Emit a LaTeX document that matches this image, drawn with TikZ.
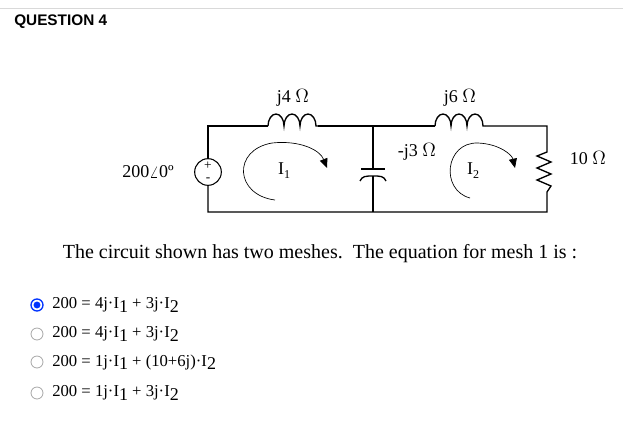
\documentclass[tikz,border=0pt]{standalone}
\usepackage{fontspec}
\setmainfont{Liberation Serif}
\newfontfamily\qsans{Liberation Sans}
\usetikzlibrary{arrows.meta}
\tikzset{
 wire/.style={line width=1pt},
 lbl/.style={inner sep=0pt,font=\fontsize{13.5}{15}\selectfont},
 mesh/.style={line width=0.5pt,-{Triangle[length=7pt,width=6pt]}},
 radio/.style={circle,draw=gray!70,line width=0.6pt,minimum size=9pt,inner sep=0pt},
 opt/.style={anchor=west,inner sep=0pt,font=\fontsize{12.5}{14}\selectfont}
}
\newcommand{\mysb}[1]{\raisebox{-3pt}{#1}}
\newcommand{\mysbb}[1]{\raisebox{-2.5pt}{\fontsize{13.5}{14}\selectfont #1}}
\begin{document}
\begin{tikzpicture}[x=0.75pt,y=-0.75pt]
\useasboundingbox (0,0) rectangle (623,432);
\draw[gray!30,line width=0.6pt] (0,8) -- (623,8);
\node[anchor=west,inner sep=0pt,font=\qsans\bfseries\fontsize{11.5}{13}\selectfont] (q) at (14,22) {QUESTION 4};
% nodes / coordinates
\coordinate (tl) at (208,126); \coordinate (tm) at (373,126); \coordinate (tr) at (547,126);
\coordinate (bl) at (208,212); \coordinate (bm) at (373,212); \coordinate (br) at (547,212);
\coordinate (l1a) at (268,126); \coordinate (l1b) at (318,126);
\coordinate (l2a) at (435,126); \coordinate (l2b) at (485,126);
\coordinate (c1) at (373,169); \coordinate (c2) at (373,176);
\coordinate (r1) at (547,152); \coordinate (r2) at (547,192);
\node[circle,draw,line width=0.8pt,minimum size=20pt,inner sep=0pt] (src) at (208,172) {};
\node[inner sep=0pt,font=\fontsize{10}{10}\selectfont] (plus) at (208,166) {+};
\node[inner sep=0pt,font=\fontsize{10}{10}\selectfont] (minus) at (208,179.5) {-};
% wires
\draw[wire] (src.north) -- (tl) -- (l1a);
\draw[wire] (l1a) arc[start angle=180,end angle=0,x radius=6pt,y radius=9pt] arc[start angle=180,end angle=0,x radius=6pt,y radius=9pt] arc[start angle=180,end angle=0,x radius=6pt,y radius=9pt] -- (l1b);
\draw[wire] (l1b) -- (tm) -- (l2a);
\draw[wire] (l2a) arc[start angle=180,end angle=0,x radius=6pt,y radius=9pt] arc[start angle=180,end angle=0,x radius=6pt,y radius=9pt] arc[start angle=180,end angle=0,x radius=6pt,y radius=9pt] -- (l2b);
\draw[wire] (l2b) -- (tr) -- (r1) -- ++(-10,4) -- ++(14,6) -- ++(-14,6) -- ++(14,6) -- ++(-14,6) -- ++(14,6) -- (r2) -- (br) -- (bl) -- (src.south);
\draw[wire] (tm) -- (c1); \draw[wire] (c2) -- (bm);
\draw[wire] (361,169) -- (385,169);
\draw[wire] (360,181) .. controls (362,176) and (366,176) .. (c2) .. controls (380,176) and (384,176) .. (386,181);
% labels
\node[lbl] (lj4) at (293,98) {j4 $\Omega$};
\node[lbl] (lj6) at (460,98) {j6 $\Omega$};
\node[lbl] (lc) at (417,152) {-j3 $\Omega$};
\node[lbl] (lr) at (588,158) {10 $\Omega$};
\node[lbl] (lv) at (148,172) {200$\angle$0º};
\node[lbl] (i1) at (284,171) {I\mysb{\fontsize{9}{9}\selectfont 1}};
\node[lbl] (i2) at (473,171) {I\mysb{\fontsize{9}{9}\selectfont 2}};
% mesh arrows
\draw[mesh] (275,200) .. controls (235,195) and (232,150) .. (272,143) .. controls (300,140) and (320,150) .. (327,168);
\draw[mesh] (470,198) .. controls (440,190) and (445,142) .. (478,143) .. controls (500,144) and (512,155) .. (515,168);
% text
\node[inner sep=0pt,font=\fontsize{15}{17}\selectfont] (txt) at (320,254) {The circuit shown has two meshes.\ \ The equation for mesh 1 is :};
% options
\node[radio,draw=blue!80!cyan,line width=1pt,fill=white] (ra) at (37,305) {};
\fill[blue!80!cyan] (ra) circle (2.6pt);
\node[radio] (rb) at (37,334) {};
\node[radio] (rc) at (37,362) {};
\node[radio] (rd) at (37,393) {};
\node[opt] (oa) at (52,305) {200 = 4j·I\mysbb1 + 3j·I\mysbb2};
\node[opt] (ob) at (52,334) {200 = 4j·I\mysbb1 + 3j·I\mysbb2};
\node[opt] (oc) at (52,362) {200 = 1j·I\mysbb1 + (10+6j)·I\mysbb2};
\node[opt] (od) at (52,393) {200 = 1j·I\mysbb1 + 3j·I\mysbb2};
\end{tikzpicture}
\end{document}
